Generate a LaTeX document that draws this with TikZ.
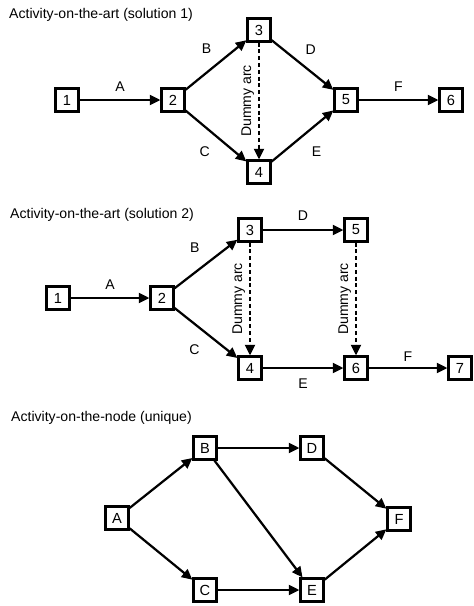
\documentclass[tikz,border=0pt]{standalone}
\usepackage{fontspec}
\setmainfont{Liberation Sans}
\usetikzlibrary{arrows.meta,positioning}

\begin{document}
\begin{tikzpicture}[
    x=0.03cm, y=-0.03cm,
    box/.style={rectangle, draw, line width=1.9pt, minimum size=0.69cm, inner sep=0pt, font=\fontsize{12.5}{14}\selectfont},
    arrow/.style={-{Triangle[length=9pt,width=8.5pt]}, line width=1.9pt},
    dummy/.style={arrow, dash pattern=on 3.4pt off 2.4pt},
    lbl/.style={font=\fontsize{12}{14}\selectfont},
    title/.style={anchor=west, inner sep=0pt, font=\fontsize{12}{14}\selectfont}
]
    \useasboundingbox (0,0) rectangle (474,606);

    % Solution 1
    \node[title] (t1) at (9,15) {Activity-on-the-art (solution 1)};
    \node[box] (a1) at (67,100) {1};
    \node[box] (a2) at (173,100) {2};
    \node[box] (a3) at (259,30) {3};
    \node[box] (a4) at (259,172) {4};
    \node[box] (a5) at (346,100) {5};
    \node[box] (a6) at (451,100) {6};

    \draw[arrow] (a1) -- node[lbl, above=3pt] {A} (a2);
    \draw[arrow] (a2) -- node[lbl, pos=0.56, above left=4pt] {B} (a3);
    \draw[arrow] (a2) -- node[lbl, pos=0.54, below left=4.5pt] {C} (a4);
    \draw[arrow] (a3) -- node[lbl, pos=0.43, above right=3pt] {D} (a5);
    \draw[arrow] (a4) -- node[lbl, pos=0.49, below right=6pt] {E} (a5);
    \draw[arrow] (a5) -- node[lbl, above=3pt] {F} (a6);
    \draw[dummy] (a3) -- node[lbl, rotate=90, anchor=south] {Dummy arc} (a4);

    % Solution 2
    \node[title] (t2) at (10,215) {Activity-on-the-art (solution 2)};
    \node[box] (b1) at (58,298) {1};
    \node[box] (b2) at (162,298) {2};
    \node[box] (b3) at (250,230) {3};
    \node[box] (b5) at (356,230) {5};
    \node[box] (b4) at (250,368) {4};
    \node[box] (b6) at (356,368) {6};
    \node[box] (b7) at (460,368) {7};

    \draw[arrow] (b1) -- node[lbl, above=3pt] {A} (b2);
    \draw[arrow] (b2) -- node[lbl, pos=0.55, above left=5.5pt] {B} (b3);
    \draw[arrow] (b2) -- node[lbl, pos=0.55, below left=5.5pt] {C} (b4);
    \draw[arrow] (b3) -- node[lbl, above=4pt] {D} (b5);
    \draw[arrow] (b4) -- node[lbl, below=5pt] {E} (b6);
    \draw[arrow] (b6) -- node[lbl, above=1.5pt] {F} (b7);
    \draw[dummy] (b3) -- node[lbl, rotate=90, anchor=south] {Dummy arc} (b4);
    \draw[dummy] (b5) -- node[lbl, rotate=90, anchor=south] {Dummy arc} (b6);

    % Activity on the node
    \node[title] (t3) at (11,418) {Activity-on-the-node (unique)};
    \node[box] (nA) at (117,518) {A};
    \node[box] (nB) at (205,448) {B};
    \node[box] (nC) at (205,590) {C};
    \node[box] (nD) at (312,448) {D};
    \node[box] (nE) at (312,590) {E};
    \node[box] (nF) at (399,519) {F};

    \draw[arrow] (nA) -- (nB);
    \draw[arrow] (nA) -- (nC);
    \draw[arrow] (nB) -- (nD);
    \draw[arrow] (nB) -- (nE);
    \draw[arrow] (nC) -- (nE);
    \draw[arrow] (nD) -- (nF);
    \draw[arrow] (nE) -- (nF);
\end{tikzpicture}
\end{document}
